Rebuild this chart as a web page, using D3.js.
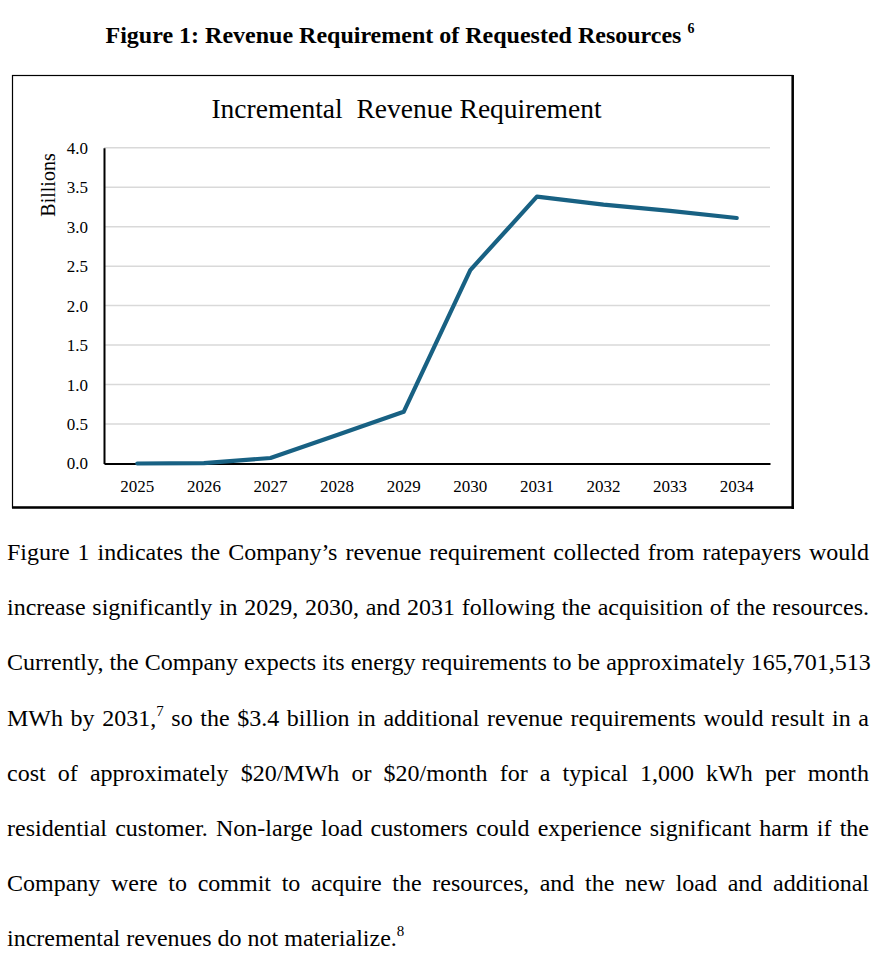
<!DOCTYPE html>
<html><head><meta charset="utf-8">
<script src="https://cdn.jsdelivr.net/npm/d3@7"></script>
<style>
html,body{margin:0;padding:0;background:#fff;}
#wrap{position:relative;width:880px;height:959px;overflow:hidden;}
svg{position:absolute;left:0;top:0;}
#para{position:absolute;left:7px;top:525px;width:862px;font-family:"Liberation Serif","Times New Roman",serif;font-size:24px;line-height:55.2px;color:#000;}
#para div{text-align:justify;text-align-last:justify;white-space:nowrap;}
#para div.last{text-align-last:left;}
#para sup{font-size:15px;line-height:0;vertical-align:10px;}
</style></head>
<body><div id="wrap"><svg id="chart" width="880" height="959"></svg><div id="para"></div></div>
<script>
const years = ["2025","2026","2027","2028","2029","2030","2031","2032","2033","2034"];
const revenue = [0.0, 0.005, 0.07, 0.36, 0.655, 2.45, 3.38, 3.28, 3.20, 3.11];
const yTicks = [0.0, 0.5, 1.0, 1.5, 2.0, 2.5, 3.0, 3.5, 4.0];
const figureTitle = "Figure 1: Revenue Requirement of Requested Resources";
const figureNote = "6";
const chartTitle = "Incremental\u00a0 Revenue Requirement";
const yLabel = "Billions";
const paraLines = [
  "Figure 1 indicates the Company\u2019s revenue requirement collected from ratepayers would",
  "increase significantly in 2029, 2030, and 2031 following the acquisition of the resources.",
  "Currently, the Company expects its energy requirements to be approximately 165,701,513",
  "MWh by 2031,<sup>7</sup> so the $3.4 billion in additional revenue requirements would result in a",
  "cost of approximately $20/MWh or $20/month for a typical 1,000 kWh per month",
  "residential customer. Non-large load customers could experience significant harm if the",
  "Company were to commit to acquire the resources, and the new load and additional",
  "incremental revenues do not materialize.<sup>8</sup>"
];

const svg = d3.select("#chart");
const serif = "'Liberation Serif','Times New Roman',serif";

// Figure title
const ft = svg.append("text").attr("x", 400).attr("y", 43).attr("text-anchor","middle")
  .attr("font-family", serif).attr("font-weight","bold").attr("font-size", 24);
ft.append("tspan").text(figureTitle + " ");
ft.append("tspan").attr("font-size", 14).attr("dy", -10).text(figureNote);

// Chart box
svg.append("rect").attr("x", 12.5).attr("y", 75.5).attr("width", 780).attr("height", 432)
  .attr("fill","#fff").attr("stroke","#000").attr("stroke-width",1.2);
svg.append("line").attr("x1",12).attr("x2",794).attr("y1",507.5).attr("y2",507.5).attr("stroke","#000").attr("stroke-width",2.5);
svg.append("line").attr("x1",792.7).attr("x2",792.7).attr("y1",75).attr("y2",509).attr("stroke","#000").attr("stroke-width",2.5);

// Chart title
svg.append("text").attr("x", 406.5).attr("y", 118).attr("text-anchor","middle")
  .attr("font-family", serif).attr("font-size", 27.5).text(chartTitle);

const pLeft = 104, pRight = 770, pTop = 147.7, pBottom = 463.5;
const x = d3.scaleBand().domain(years).range([pLeft, pRight]);
const y = d3.scaleLinear().domain([0, 4]).range([pBottom, pTop]);

// gridlines
svg.append("g").selectAll("line").data(yTicks.filter(d => d > 0)).join("line")
  .attr("x1", pLeft).attr("x2", pRight).attr("y1", d => y(d)).attr("y2", d => y(d))
  .attr("stroke", "#d9d9d9").attr("stroke-width", 1.5);

// y axis
const yAxis = svg.append("g").attr("transform", `translate(${pLeft},0)`)
  .call(d3.axisLeft(y).tickValues(yTicks).tickFormat(d3.format(".1f")).tickSize(0).tickPadding(16));
yAxis.select(".domain").attr("stroke","#000").attr("stroke-width",2);
yAxis.selectAll("text").attr("font-family", serif).attr("font-size", 17).attr("fill","#000");

// x axis
const xAxis = svg.append("g").attr("transform", `translate(0,${pBottom})`)
  .call(d3.axisBottom(x).tickSize(0).tickPadding(16));
xAxis.select(".domain").attr("stroke","#000").attr("stroke-width",2.2);
xAxis.selectAll("text").attr("font-family", serif).attr("font-size", 17).attr("fill","#000");

// y label
svg.append("text").attr("transform", "translate(55,185) rotate(-90)").attr("text-anchor","middle")
  .attr("font-family", serif).attr("font-size", 20).text(yLabel);

// line
const line = d3.line().x((d,i) => x(years[i]) + x.bandwidth()/2).y(d => y(d));
svg.append("path").datum(revenue).attr("d", line).attr("fill","none")
  .attr("stroke","#186183").attr("stroke-width",4.2).attr("stroke-linejoin","round").attr("stroke-linecap","round");

// paragraph
d3.select("#para").selectAll("div").data(paraLines).join("div")
  .attr("class", (d,i) => i === paraLines.length - 1 ? "last" : null)
  .html(d => d);
</script></body></html>
